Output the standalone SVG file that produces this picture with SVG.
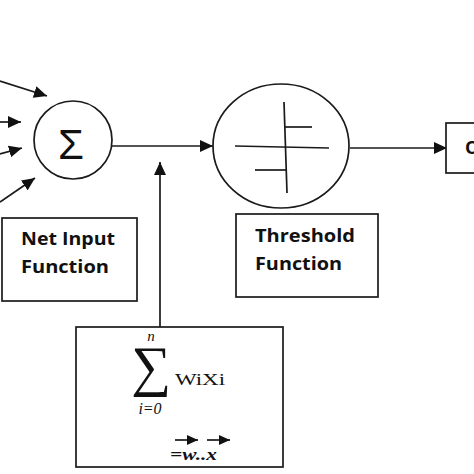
<svg xmlns="http://www.w3.org/2000/svg" width="474" height="474" viewBox="0 0 474 474">
<style>
.ln{stroke:#1a1a1a;stroke-width:1.7;fill:none}
.box{stroke:#1a1a1a;stroke-width:1.7;fill:#fff}
.lbl{font-family:"Open Sans","Liberation Sans",sans-serif;font-weight:bold;font-size:18px;fill:#111}
.ser{font-family:"Liberation Serif","DejaVu Serif",serif;fill:#111}
</style>
<defs>
<marker id="ah" markerUnits="userSpaceOnUse" markerWidth="14" markerHeight="12" refX="13" refY="6" orient="auto">
<path d="M0,0 L13,6 L0,12 Z" fill="#111"/>
</marker>
<marker id="ahs" markerUnits="userSpaceOnUse" markerWidth="12" markerHeight="10" refX="11" refY="5" orient="auto">
<path d="M0,0 L11,5 L0,10 Z" fill="#111"/>
</marker>
</defs>
<rect width="474" height="474" fill="#fff"/>
<g id="connectors">
<line class="ln" x1="0" y1="81" x2="47" y2="96" marker-end="url(#ah)"/>
<line class="ln" x1="0" y1="122" x2="21" y2="122" marker-end="url(#ah)"/>
<line class="ln" x1="0" y1="154" x2="22" y2="148" marker-end="url(#ah)"/>
<line class="ln" x1="0" y1="202" x2="35" y2="178" marker-end="url(#ah)"/>
<line class="ln" x1="112" y1="146" x2="213" y2="146" marker-end="url(#ah)"/>
<line class="ln" x1="160" y1="327" x2="160" y2="162" marker-end="url(#ah)"/>
<line class="ln" x1="350" y1="148" x2="447" y2="148" marker-end="url(#ah)"/>
</g>
<g id="sum-node">
<circle class="box" cx="73" cy="140" r="39"/>
<text x="71" y="159" text-anchor="middle" font-family="Liberation Sans, sans-serif" font-size="42" fill="#111">Σ</text>
</g>
<g id="net-input-label">
<rect class="box" x="2" y="218" width="135" height="83"/>
<text class="lbl" x="21" y="245" textLength="94" lengthAdjust="spacingAndGlyphs">Net Input</text>
<text class="lbl" x="21" y="273" textLength="88" lengthAdjust="spacingAndGlyphs">Function</text>
</g>
<g id="threshold-node">
<ellipse class="box" cx="281" cy="146" rx="68" ry="62"/>
<line class="ln" x1="284" y1="102" x2="287" y2="193"/>
<line class="ln" x1="235" y1="146" x2="329" y2="148"/>
<line class="ln" x1="284" y1="127" x2="312" y2="127"/>
<line class="ln" x1="255" y1="170" x2="286" y2="170"/>
</g>
<g id="threshold-label">
<rect class="box" x="236" y="214" width="142" height="83"/>
<text class="lbl" x="255" y="242" textLength="100" lengthAdjust="spacingAndGlyphs">Threshold</text>
<text class="lbl" x="255" y="270" textLength="87" lengthAdjust="spacingAndGlyphs">Function</text>
</g>
<g id="output-node">
<rect class="box" x="446" y="123" width="40" height="50"/>
<text class="lbl" x="465" y="154">O</text>
</g>
<g id="weighted-sum">
<rect class="box" x="76" y="327" width="207" height="140"/>
<text class="ser" x="151" y="385" text-anchor="middle" font-size="56">∑</text>
<text class="ser" x="151" y="341" text-anchor="middle" font-size="15" font-style="italic">n</text>
<text class="ser" x="150" y="414" text-anchor="middle" font-size="16" font-style="italic">i=0</text>
<text class="ser" x="175" y="385" font-size="17" textLength="50" lengthAdjust="spacingAndGlyphs">WiXi</text>
<line class="ln" x1="175" y1="440" x2="198" y2="440" marker-end="url(#ahs)"/>
<line class="ln" x1="207" y1="440" x2="230" y2="440" marker-end="url(#ahs)"/>
<text class="ser" x="170" y="460" font-size="17" font-weight="bold" font-style="italic" textLength="47" lengthAdjust="spacingAndGlyphs">=w..x</text>
</g>
</svg>
